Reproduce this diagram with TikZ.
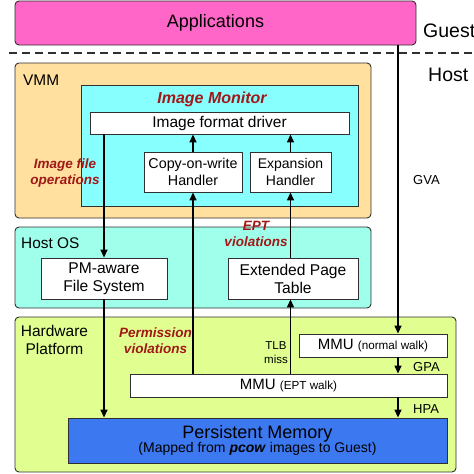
\documentclass[tikz,border=0pt]{standalone}
\usepackage{fontspec}
\setmainfont{Liberation Sans}
\usetikzlibrary{arrows.meta}
\definecolor{appc}{HTML}{FF66C8}
\definecolor{vmmc}{HTML}{FFE09E}
\definecolor{imc}{HTML}{88FFFF}
\definecolor{hosc}{HTML}{A0FFEA}
\definecolor{hwc}{HTML}{E0FF90}
\definecolor{pmc}{HTML}{3C78F0}
\definecolor{redt}{HTML}{A01818}
\definecolor{bord}{HTML}{303030}
\newcommand{\fs}[2]{\fontsize{#1}{#2}\selectfont}
\tikzset{
  layer/.style={draw=bord, line width=0.9pt, rounded corners=4pt, inner sep=0pt},
  wbox/.style={draw=bord, line width=0.9pt, fill=white, inner sep=0pt, align=center},
  arr/.style={line width=1.6pt, -{Triangle[length=8pt,width=7pt]}},
  redlab/.style={text=redt, font=\bfseries\itshape\fs{13.5}{16}, align=center, inner sep=0pt},
  lab/.style={inner sep=0pt, anchor=base},
}
\begin{document}
\begin{tikzpicture}[x=1pt,y=-1pt]
\useasboundingbox (0,0) rectangle (474,474);
% layers
\node[layer, fill=appc, minimum width=401pt, minimum height=44pt, font=\fs{18}{20}] (apps) at (215.5,23) {Applications};
\node[layer, fill=vmmc, minimum width=356pt, minimum height=155pt] (vmm) at (193,140.5) {};
\node[layer, fill=hosc, minimum width=356pt, minimum height=81pt] (hostos) at (193,267.5) {};
\node[layer, fill=hwc, minimum width=441pt, minimum height=155pt] (hw) at (235.5,394.5) {};
\node[draw=bord, line width=0.9pt, fill=imc, inner sep=0pt, minimum width=277pt, minimum height=121pt] (im) at (219.5,145.5) {};
% boxes
\node[wbox, minimum width=259pt, minimum height=22pt, font=\fs{15.5}{18}] (drv) at (219.5,123) {Image format driver};
\node[wbox, minimum width=98pt, minimum height=40pt, font=\fs{14.3}{17}] (cow) at (193,172) {Copy-on-write\\Handler};
\node[wbox, minimum width=81pt, minimum height=40pt, font=\fs{14}{17}] (exp) at (290.5,172) {Expansion\\Handler};
\node[wbox, minimum width=126pt, minimum height=41pt, font=\fs{15.6}{18}] (pmfs) at (104,278.5) {PM-aware\\File System};
\node[wbox, minimum width=130pt, minimum height=41pt, font=\fs{15.6}{18}] (ept) at (293,278.5) {Extended Page\\Table};
\node[wbox, minimum width=148pt, minimum height=23pt, font=\fs{15}{18}] (mmun) at (373,345.5) {MMU {\fs{11.7}{14}(normal walk)}};
\node[wbox, minimum width=317pt, minimum height=23pt, font=\fs{15}{18}] (mmue) at (288.5,385.5) {MMU {\fs{11.7}{14}(EPT walk)}};
\node[draw=bord, line width=0.9pt, fill=pmc, inner sep=0pt, minimum width=379pt, minimum height=45pt, align=center] (pm) at (257.5,440.5) {{\fs{18}{20}Persistent Memory}\\[-1pt]{\fs{14}{16}(Mapped from \textbf{\textit{pcow}} images to Guest)}};
% dashed separator
\coordinate (dl) at (9,53);
\coordinate (dr) at (474,53);
\draw[line width=1.5pt, dash pattern=on 8pt off 5pt, bord] (dl) -- (dr);
% labels
\node[lab, font=\fs{19.5}{22}, anchor=base west] (guest) at (423,37.5) {Guest};
\node[lab, font=\fs{19.5}{22}, anchor=base west] (host) at (428,81) {Host};
\node[lab, font=\fs{15.4}{18}, anchor=base west] (vmmlab) at (23,85) {VMM};
\node[lab, font=\fs{15.4}{18}, anchor=base west] (hoslab) at (21,248) {Host OS};
\node[inner sep=0pt, font=\fs{15.5}{18}, align=center, anchor=base] (hwlab) at (54.5,354) {Hardware\\Platform};
\node[redlab, font=\bfseries\itshape\fs{16}{18}, anchor=base] (imlab) at (212,103) {Image Monitor};
\node[redlab, anchor=base] (ifo) at (65,184) {Image file\\operations};
\node[redlab, anchor=base] (eptv) at (256,246) {EPT\\violations};
\node[redlab, anchor=base] (permv) at (155.5,353) {Permission\\violations};
\node[inner sep=0pt, font=\fs{11.5}{14}, align=center, anchor=base] (tlb) at (276,363) {TLB\\miss};
\node[lab, font=\fs{13}{15}, anchor=base west] (gva) at (413,184) {GVA};
\node[lab, font=\fs{13}{15}, anchor=base west] (gpa) at (413,371) {GPA};
\node[lab, font=\fs{13}{15}, anchor=base west] (hpa) at (413,413) {HPA};
% connectors
\coordinate (gvax) at (398,0);
\draw[arr] (apps.south -| gvax) -- (mmun.north -| gvax);
\draw[arr] (mmun.south -| gvax) -- (mmue.north -| gvax);
\draw[arr] (mmue.south -| gvax) -- (pm.north -| gvax);
\draw[arr] (drv.south -| pmfs.north) -- (pmfs.north);
\draw[arr] (pmfs.south) -- (pm.north -| pmfs.south);
\draw[arr] (cow.north) -- (drv.south -| cow.north);
\draw[arr] (exp.north) -- (drv.south -| exp.north);
\draw[arr] (mmue.north -| cow.south) -- (cow.south);
\draw[arr] (ept.north -| exp.south) -- (exp.south);
\draw[arr] (mmue.north -| exp.south) -- (ept.south -| exp.south);
\end{tikzpicture}
\end{document}
